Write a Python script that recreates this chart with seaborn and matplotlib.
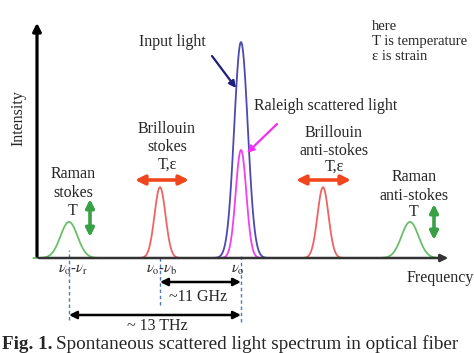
import numpy as np
import pandas as pd
import matplotlib
matplotlib.use("Agg")
import matplotlib.pyplot as plt
import seaborn as sns

# peak data (frequency in arbitrary units, intensity normalised to the y-axis height)
peak_names = ["Raman stokes", "Brillouin stokes", "Input light", "Rayleigh",
              "Brillouin anti-stokes", "Raman anti-stokes"]
peak_centers = [32, 123, 204, 204, 286, 373]
peak_heights = [0.153, 0.30, 0.915, 0.458, 0.30, 0.153]
peak_widths = [8.5, 5.5, 6.8, 5.3, 5.5, 8.5]
peak_colors = ["#6cbf6a", "#ee6464", "#4a4ab0", "#f040f0", "#ee6464", "#6cbf6a"]

shift_labels = [r"$\nu_\mathrm{o}$-$\nu_\mathrm{r}$", r"$\nu_\mathrm{o}$-$\nu_\mathrm{b}$", r"$\nu_\mathrm{o}$"]
span_labels = ["~11 GHz", "~ 13 THz"]

sns.set_theme(style="white")
plt.rcParams["font.family"] = ["Liberation Serif", "DejaVu Serif"]
plt.rcParams["mathtext.fontset"] = "stix"

W, H = 474, 353
fig = plt.figure(figsize=(W / 100, H / 100), dpi=100)
ax = fig.add_axes([0, 0, 1, 1])

# map picture pixels to data units: origin of the spectrum axes at (37, 258)
X0, Y0, YS = 37, 258, 236.0
ax.set_xlim(-X0, W - X0)
ax.set_ylim((Y0 - H) / YS, Y0 / YS)
ax.axis("off")


def at(px, py):
    return px - X0, (Y0 - py) / YS


rows = []
for name, c, h, w in zip(peak_names, peak_centers, peak_heights, peak_widths):
    xs = np.linspace(c - 4.2 * w, c + 4.2 * w, 120)
    for x in xs:
        rows.append({"peak": name, "freq": x, "intensity": h * np.exp(-0.5 * ((x - c) / w) ** 2)})
df = pd.DataFrame(rows)

# axes arrows
ax.annotate("", xy=at(451, 258), xytext=at(36, 258),
            arrowprops=dict(arrowstyle="-|>", color="#333333", lw=1.8, mutation_scale=11))

sns.lineplot(data=df, x="freq", y="intensity", hue="peak", hue_order=peak_names,
             palette=dict(zip(peak_names, peak_colors)), estimator=None, sort=False,
             legend=False, lw=1.3, ax=ax)

ax.annotate("", xy=at(37, 20), xytext=at(37, 259),
            arrowprops=dict(arrowstyle="-|>", color="black", lw=2.3, mutation_scale=12))

# dashed markers under the shifted lines
dash_col = "#4f79bd"
ax.vlines(peak_centers[0], at(0, 320)[1], at(0, 250)[1], colors=dash_col, linestyles=(0, (2.5, 2)), lw=1)
ax.vlines(peak_centers[1], at(0, 305)[1], at(0, 256)[1], colors=dash_col, linestyles=(0, (2.5, 2)), lw=1)
ax.vlines(peak_centers[2], at(0, 322)[1], at(0, 256)[1], colors=dash_col, linestyles=(0, (2.5, 2)), lw=1)

fs = 11.5
ax.text(*at(73, 270), shift_labels[0], ha="center", va="center", fontsize=10.5)
ax.text(*at(162, 270), shift_labels[1], ha="center", va="center", fontsize=10.5)
ax.text(*at(238, 270), shift_labels[2], ha="center", va="center", fontsize=10.5)

ax.annotate("", xy=(peak_centers[1], at(0, 282)[1]), xytext=(peak_centers[2], at(0, 282)[1]),
            arrowprops=dict(arrowstyle="<|-|>", color="black", lw=1.8, mutation_scale=11,
                            shrinkA=0, shrinkB=0))
ax.text(*at(198, 297), span_labels[0], ha="center", va="center", fontsize=fs)
ax.annotate("", xy=(peak_centers[0], at(0, 315)[1]), xytext=(peak_centers[2], at(0, 315)[1]),
            arrowprops=dict(arrowstyle="<|-|>", color="black", lw=1.8, mutation_scale=11,
                            shrinkA=0, shrinkB=0))
ax.text(*at(157, 326), span_labels[1], ha="center", va="center", fontsize=fs)

# labels
ax.text(*at(18, 118), "Intensity", rotation=90, ha="center", va="center", fontsize=fs)
ax.text(*at(440, 278), "Frequency", ha="center", va="center", fontsize=fs)

ax.text(*at(172, 42), "Input light", ha="center", va="center", fontsize=fs)
ax.annotate("", xy=at(236, 88), xytext=at(212, 56),
            arrowprops=dict(arrowstyle="-|>", color="#1f1f78", lw=1.6, mutation_scale=10,
                            shrinkA=0, shrinkB=0))

ax.text(*at(254, 106), "Raleigh scattered light", ha="left", va="center", fontsize=fs)
ax.annotate("", xy=at(247, 153), xytext=at(277, 124),
            arrowprops=dict(arrowstyle="-|>", color="#f030f0", lw=1.6, mutation_scale=10,
                            shrinkA=0, shrinkB=0))

for i, line in enumerate(["here", "T is temperature", "ε is strain"]):
    ax.text(*at(372, 26 + 15.5 * i), line, ha="left", va="center", fontsize=10.5)

red_arrow = dict(arrowstyle="<|-|>", color="#f0461e", lw=2.6, mutation_scale=14,
                 shrinkA=0, shrinkB=0)
green_arrow = dict(arrowstyle="<|-|>", color="#3aa046", lw=2.6, mutation_scale=12,
                   shrinkA=0, shrinkB=0)

for txt, py in zip(["Brillouin", "stokes", "T,ε"], [129, 147, 165]):
    ax.text(*at(167, py), txt, ha="center", va="center", fontsize=fs)
ax.annotate("", xy=at(189, 180), xytext=at(135, 180), arrowprops=red_arrow)

for txt, py in zip(["Brillouin", "anti-stokes", "T,ε"], [133, 151, 167]):
    ax.text(*at(334, py), txt, ha="center", va="center", fontsize=fs)
ax.annotate("", xy=at(351, 180), xytext=at(296, 180), arrowprops=red_arrow)

for txt, py in zip(["Raman", "stokes", "T"], [174, 193, 211]):
    ax.text(*at(73, py), txt, ha="center", va="center", fontsize=fs)
ax.annotate("", xy=at(90, 199), xytext=at(90, 237), arrowprops=green_arrow)

for txt, py in zip(["Raman", "anti-stokes", "T"], [177, 196, 212]):
    ax.text(*at(414, py), txt, ha="center", va="center", fontsize=fs)
ax.annotate("", xy=at(434, 204), xytext=at(434, 240), arrowprops=green_arrow)

# caption
t1 = fig.text(2 / W, 1 - 349 / H, "Fig. 1.", fontsize=13.8, fontweight="bold", ha="left", va="baseline")
fig.canvas.draw()
bb = t1.get_window_extent()
fig.text(bb.x1 / W + 4 / W, 1 - 349 / H, "Spontaneous scattered light spectrum in optical fiber",
         fontsize=13.8, ha="left", va="baseline")

fig.savefig("out.png", dpi=100)
